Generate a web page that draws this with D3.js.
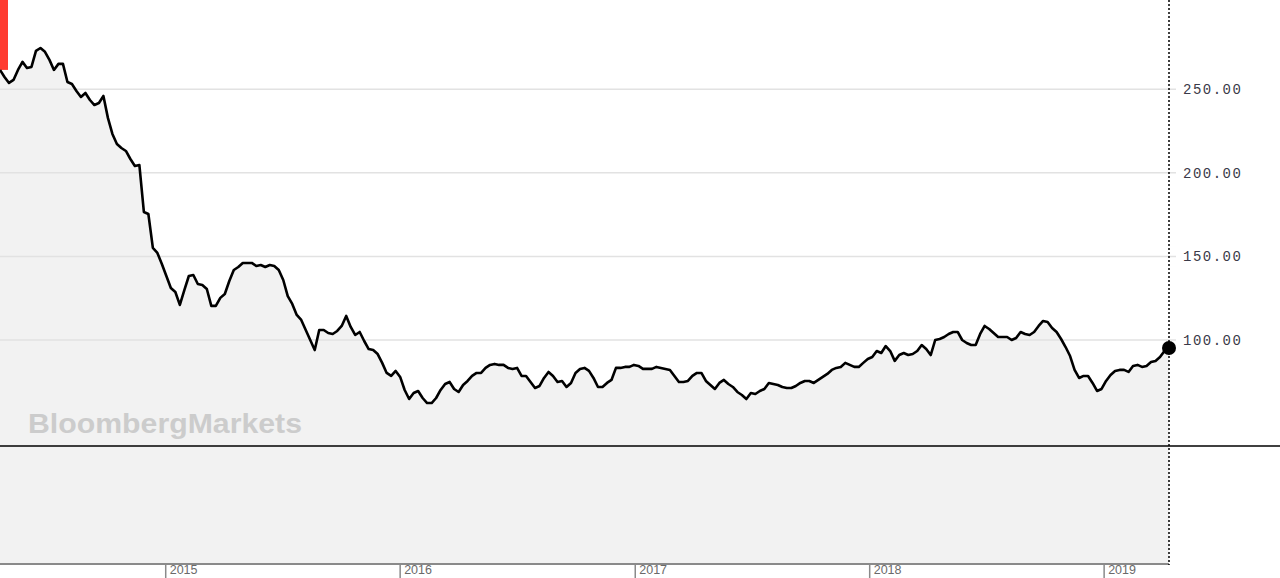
<!DOCTYPE html>
<html>
<head>
<meta charset="utf-8">
<script src="https://d3js.org/d3.v7.min.js"></script>
<style>
  body { margin:0; background:#fff; }
  svg { display:block; }
  .grid line { stroke:#e2e2e2; stroke-width:1.5; }
  .priceLabel { font-family:"Liberation Mono","Courier New",monospace; font-size:14px; fill:#3a3a48; letter-spacing:1.5px; }
  .yearLabel { font-family:"Liberation Sans",Arial,sans-serif; font-size:12.5px; fill:#6a6a6a; }
  .watermark { font-family:"Liberation Sans",Arial,sans-serif; font-weight:bold; font-size:27px; fill:#cccccc; }
</style>
</head>
<body>
<svg id="pricechart"></svg>
<script>
// weekly closes, first week of the series
var startDate = "2014-04-18";

// weekly values
var prices = [
  261.6,257.4,253.8,255.6,261.6,266.4,262.8,263.4,273.0,274.7,
  272.4,267.6,261.6,265.2,265.2,254.4,253.2,249.0,245.4,247.8,
  243.6,240.6,241.8,246.0,232.9,223.3,217.3,214.9,213.1,208.3,
  204.1,204.7,176.6,175.4,155.1,152.1,145.5,138.3,131.1,128.7,
  121.0,129.9,138.3,138.9,133.5,132.9,130.5,120.4,120.4,125.2,
  127.5,135.3,141.9,143.7,146.1,146.1,146.1,144.3,144.9,143.7,
  144.9,144.3,141.9,135.9,126.3,121.6,115.0,112.0,106.0,100.0,
  94.0,106.0,106.0,104.2,103.6,105.4,108.4,114.4,107.8,103.0,
  104.8,99.4,94.6,94.0,91.6,86.3,80.3,78.5,81.5,77.9,
  70.1,64.7,68.3,69.5,65.3,62.3,62.3,65.3,70.1,73.7,
  74.9,70.7,68.9,73.1,75.5,78.5,80.3,80.3,83.3,85.1,
  85.7,85.1,85.1,83.3,82.7,83.3,78.5,78.5,74.9,71.3,
  72.5,77.3,80.9,78.5,74.9,75.5,71.9,74.3,80.3,82.7,
  83.3,81.5,77.3,71.9,71.9,74.3,76.1,83.3,83.3,83.9,
  83.9,85.1,84.5,82.7,82.7,82.7,83.9,83.3,82.7,82.1,
  78.5,74.9,74.9,75.5,78.5,80.3,80.3,75.5,73.1,70.7,
  74.3,76.1,73.7,71.9,68.9,67.1,64.7,68.3,67.7,69.5,
  70.7,74.3,73.7,73.1,71.9,71.3,71.3,72.5,74.3,75.5,
  75.5,74.3,76.1,77.9,79.7,82.1,83.3,83.9,86.3,85.1,
  83.9,83.9,86.3,88.6,89.8,93.4,92.2,96.4,93.4,87.5,
  91.0,92.2,91.0,91.6,93.4,97.0,94.6,91.0,100.0,100.6,
  101.8,103.6,104.8,104.8,100.0,98.2,97.0,97.0,103.6,108.4,
  106.6,104.2,101.8,101.8,101.8,100.0,101.2,104.8,103.6,103.0,
  104.8,108.4,111.4,110.8,107.2,104.8,100.6,95.8,90.4,82.1,
  77.3,78.5,78.5,74.3,69.5,70.7,75.5,79.1,81.5,82.1,
  82.1,80.9,84.5,85.1,83.9,84.5,86.8,87.5,89.8,93.4,
  95.2
];

// right axis levels
var priceTicks = [100,150,200,250];
// bottom axis years
var yearTicks = ["2015","2016","2017","2018","2019"];

var watermarkText = "BloombergMarkets";

var drawArea = function(series,target,graph,xScale,yScale)
{
    var area = d3.area()
        .x(function(d){ return xScale(d.date); })
        .y0(graph.height)
        .y1(function(d){ return yScale(d.price); });

    target.append("path")
        .datum(series)
        .attr("d",area)
        .attr("fill","#f2f2f2");

    // red marker over the first weeks
    target.append("rect")
        .attr("x",xScale(series[0].date))
        .attr("y",0)
        .attr("width",xScale(series[2].date)-xScale(series[0].date)-1)
        .attr("height",yScale(series[0].price))
        .attr("fill","#ff3b30");
}

var drawGrid = function(target,graph,xScale,yScale)
{
    var grid = target.append("g").classed("grid",true);
    grid.selectAll("line")
        .data(priceTicks)
        .enter()
        .append("line")
        .attr("x1",0)
        .attr("x2",graph.width+7)
        .attr("y1",function(d){ return yScale(d); })
        .attr("y2",function(d){ return yScale(d); });

    target.selectAll(".priceLabel")
        .data(priceTicks)
        .enter()
        .append("text")
        .classed("priceLabel",true)
        .attr("x",graph.width+14)
        .attr("y",function(d){ return yScale(d); })
        .attr("dy","0.35em")
        .text(function(d){ return d3.format(".2f")(d); });
}

var drawLine = function(series,target,xScale,yScale)
{
    var line = d3.line()
        .x(function(d){ return xScale(d.date); })
        .y(function(d){ return yScale(d.price); });

    target.append("path")
        .datum(series)
        .attr("d",line)
        .attr("fill","none")
        .attr("stroke","#000")
        .attr("stroke-width",2.6)
        .attr("stroke-linejoin","round");

    var last = series[series.length-1];
    target.append("circle")
        .attr("cx",xScale(last.date))
        .attr("cy",yScale(last.price))
        .attr("r",7)
        .attr("fill","#000");
}

var drawAxes = function(target,graph,screen,xScale)
{
    // pane divider
    target.append("line")
        .attr("x1",0).attr("x2",screen.width)
        .attr("y1",graph.split).attr("y2",graph.split)
        .attr("stroke","#000").attr("stroke-width",1.5);

    // bottom axis line
    target.append("line")
        .attr("x1",0).attr("x2",graph.width)
        .attr("y1",graph.height+1).attr("y2",graph.height+1)
        .attr("stroke","#8a8a8a").attr("stroke-width",2);

    var parseYear = d3.timeParse("%Y");
    var years = target.append("g").selectAll("g")
        .data(yearTicks)
        .enter()
        .append("g")
        .attr("transform",function(d){ return "translate("+xScale(parseYear(d))+",0)"; });

    years.append("line")
        .attr("x1",0).attr("x2",0)
        .attr("y1",graph.height+2).attr("y2",screen.height)
        .attr("stroke","#8a8a8a").attr("stroke-width",1.5);

    years.append("text")
        .classed("yearLabel",true)
        .attr("x",4)
        .attr("y",graph.height+11)
        .text(function(d){ return d; });

    // current date marker
    target.append("line")
        .attr("x1",graph.width).attr("x2",graph.width)
        .attr("y1",0).attr("y2",graph.height+2)
        .attr("stroke","#000")
        .attr("stroke-width",1.5)
        .attr("stroke-dasharray","2,2");
}

var drawWatermark = function(target)
{
    target.append("text")
        .classed("watermark",true)
        .attr("x",28)
        .attr("y",433)
        .attr("textLength",274)
        .attr("lengthAdjust","spacingAndGlyphs")
        .text(watermarkText);
}

var initGraph = function()
{
    var screen = {width:1280,height:578};
    var graph = {width:1169,height:563,split:446};

    var start = d3.timeParse("%Y-%m-%d")(startDate);
    var series = prices.map(function(p,i){
        return {date:d3.timeDay.offset(start,7*i),price:p};
    });

    var svg = d3.select("#pricechart")
        .attr("width",screen.width)
        .attr("height",screen.height);

    var xScale = d3.scaleTime()
        .domain([series[0].date,series[series.length-1].date])
        .range([0,graph.width]);

    var yScale = d3.scaleLinear()
        .domain([100,250])
        .range([340,89.3]);

    drawArea(series,svg,graph,xScale,yScale);
    drawGrid(svg,graph,xScale,yScale);
    drawWatermark(svg);
    drawAxes(svg,graph,screen,xScale);
    drawLine(series,svg,xScale,yScale);
}

initGraph();
</script>
</body>
</html>
